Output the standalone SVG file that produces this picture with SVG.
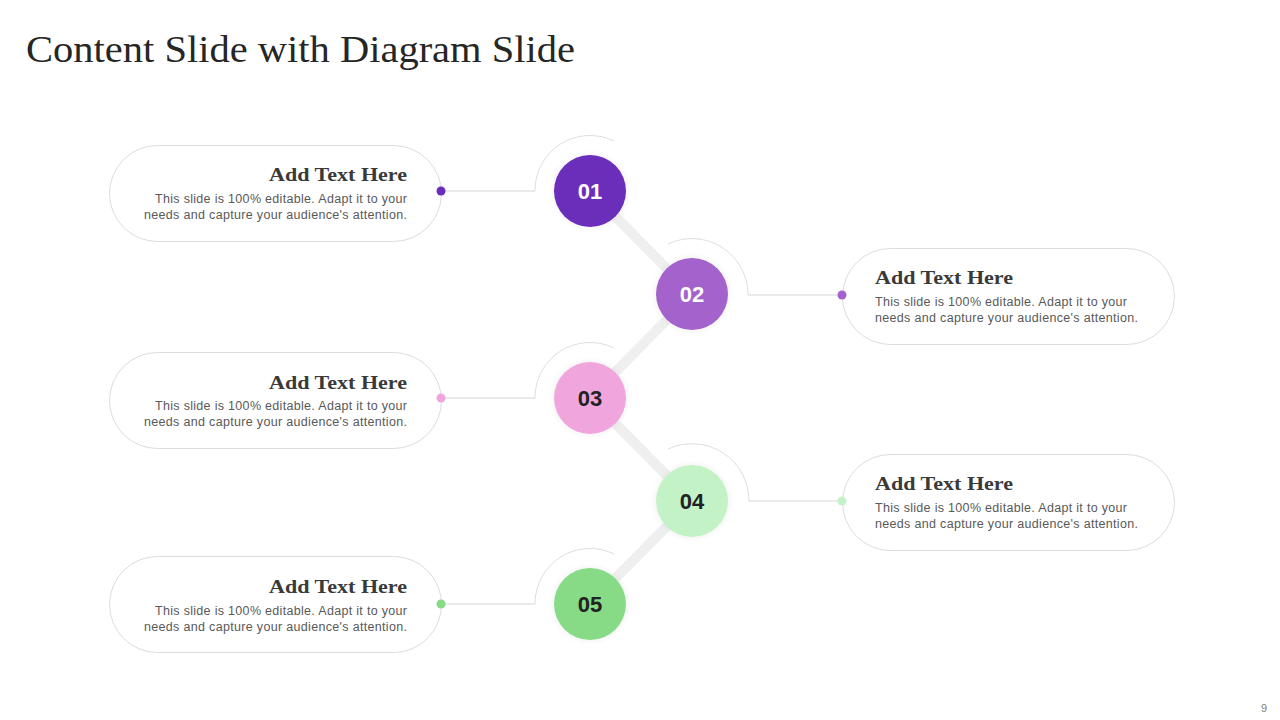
<svg xmlns="http://www.w3.org/2000/svg" width="1280" height="720" viewBox="0 0 1280 720">
<defs>
<style>
.pill{fill:#ffffff;stroke:#dcdcdc;stroke-width:1}
.arc{fill:none;stroke:#dedede;stroke-width:1}
.conn{fill:none;stroke:#d6d6d6;stroke-width:1}
.spine{fill:none;stroke:#efefef;stroke-width:10}
.ttl{font-family:"Liberation Serif",Georgia,serif;font-weight:bold;font-size:19px;fill:#3a3a3a}
.body{font-family:"Liberation Sans",Arial,sans-serif;font-size:12.500px;fill:#595959}
.num{font-family:"Liberation Sans",Arial,sans-serif;font-weight:bold;font-size:22px;text-anchor:middle}
</style>
<filter id="glow" x="-30%" y="-30%" width="160%" height="160%">
<feDropShadow dx="0" dy="0" stdDeviation="3" flood-color="#000000" flood-opacity="0.08"/>
</filter>
</defs>
<rect width="1280" height="720" fill="#ffffff"/>
<text x="26" y="62" font-family="Liberation Serif,Georgia,serif" font-size="37" fill="#262626" textLength="549" lengthAdjust="spacingAndGlyphs">Content Slide with Diagram Slide</text>
<g id="connectors">
<polyline class="spine" points="590,191 692,294 590,398 692,501 590,604"/>
<path class="arc" d="M535,191 A55,55 0 0 1 614,141"/>
<path class="conn" d="M535,191 H441"/>
<path class="arc" d="M748,295 A56,56 0 0 0 668,244"/>
<path class="conn" d="M748,295 H842"/>
<path class="arc" d="M535,398 A55,55 0 0 1 614,348"/>
<path class="conn" d="M535,398 H441"/>
<path class="arc" d="M749,501 A57,57 0 0 0 668,449"/>
<path class="conn" d="M749,501 H842"/>
<path class="arc" d="M535,604 A55,55 0 0 1 614,554"/>
<path class="conn" d="M535,604 H441"/>
</g>
<g id="node1">
<rect class="pill" x="109.500" y="145.500" width="332" height="96" rx="48"/>
<circle cx="441" cy="191" r="4.500" fill="#6a2dbb"/>
<text class="ttl" x="407" y="181" text-anchor="end" textLength="138" lengthAdjust="spacingAndGlyphs">Add Text Here</text>
<text class="body" x="407" y="203" text-anchor="end" textLength="252">This slide is 100% editable. Adapt it to your</text>
<text class="body" x="407" y="219" text-anchor="end" textLength="263">needs and capture your audience's attention.</text>
<circle cx="590" cy="191" r="36" fill="#6a2dbb" filter="url(#glow)"/>
<text class="num" x="590" y="199" fill="#ffffff">01</text>
</g>
<g id="node2">
<rect class="pill" x="842.500" y="248.500" width="332" height="96" rx="48"/>
<circle cx="842" cy="295" r="4.500" fill="#a462cc"/>
<text class="ttl" x="875" y="284" textLength="138" lengthAdjust="spacingAndGlyphs">Add Text Here</text>
<text class="body" x="875" y="306" textLength="252">This slide is 100% editable. Adapt it to your</text>
<text class="body" x="875" y="322" textLength="263">needs and capture your audience's attention.</text>
<circle cx="692" cy="294" r="36" fill="#a462cc" filter="url(#glow)"/>
<text class="num" x="692" y="302" fill="#ffffff">02</text>
</g>
<g id="node3">
<rect class="pill" x="109.500" y="352.500" width="332" height="96" rx="48"/>
<circle cx="441" cy="398" r="4.500" fill="#f0a6dd"/>
<text class="ttl" x="407" y="389" text-anchor="end" textLength="138" lengthAdjust="spacingAndGlyphs">Add Text Here</text>
<text class="body" x="407" y="410" text-anchor="end" textLength="252">This slide is 100% editable. Adapt it to your</text>
<text class="body" x="407" y="426" text-anchor="end" textLength="263">needs and capture your audience's attention.</text>
<circle cx="590" cy="398" r="36" fill="#f0a6dd" filter="url(#glow)"/>
<text class="num" x="590" y="406" fill="#222222">03</text>
</g>
<g id="node4">
<rect class="pill" x="842.500" y="454.500" width="332" height="96" rx="48"/>
<circle cx="842" cy="501" r="4.500" fill="#c4f2c7"/>
<text class="ttl" x="875" y="490" textLength="138" lengthAdjust="spacingAndGlyphs">Add Text Here</text>
<text class="body" x="875" y="512" textLength="252">This slide is 100% editable. Adapt it to your</text>
<text class="body" x="875" y="528" textLength="263">needs and capture your audience's attention.</text>
<circle cx="692" cy="501" r="36" fill="#c4f2c7" filter="url(#glow)"/>
<text class="num" x="692" y="509" fill="#222222">04</text>
</g>
<g id="node5">
<rect class="pill" x="109.500" y="556.500" width="332" height="96" rx="48"/>
<circle cx="441" cy="604" r="4.500" fill="#87db86"/>
<text class="ttl" x="407" y="593" text-anchor="end" textLength="138" lengthAdjust="spacingAndGlyphs">Add Text Here</text>
<text class="body" x="407" y="615" text-anchor="end" textLength="252">This slide is 100% editable. Adapt it to your</text>
<text class="body" x="407" y="631" text-anchor="end" textLength="263">needs and capture your audience's attention.</text>
<circle cx="590" cy="604" r="36" fill="#87db86" filter="url(#glow)"/>
<text class="num" x="590" y="612" fill="#222222">05</text>
</g>
<text x="1267" y="712" font-family="Liberation Sans,Arial,sans-serif" font-size="11" fill="#7f7f7f" text-anchor="end">9</text>
</svg>
